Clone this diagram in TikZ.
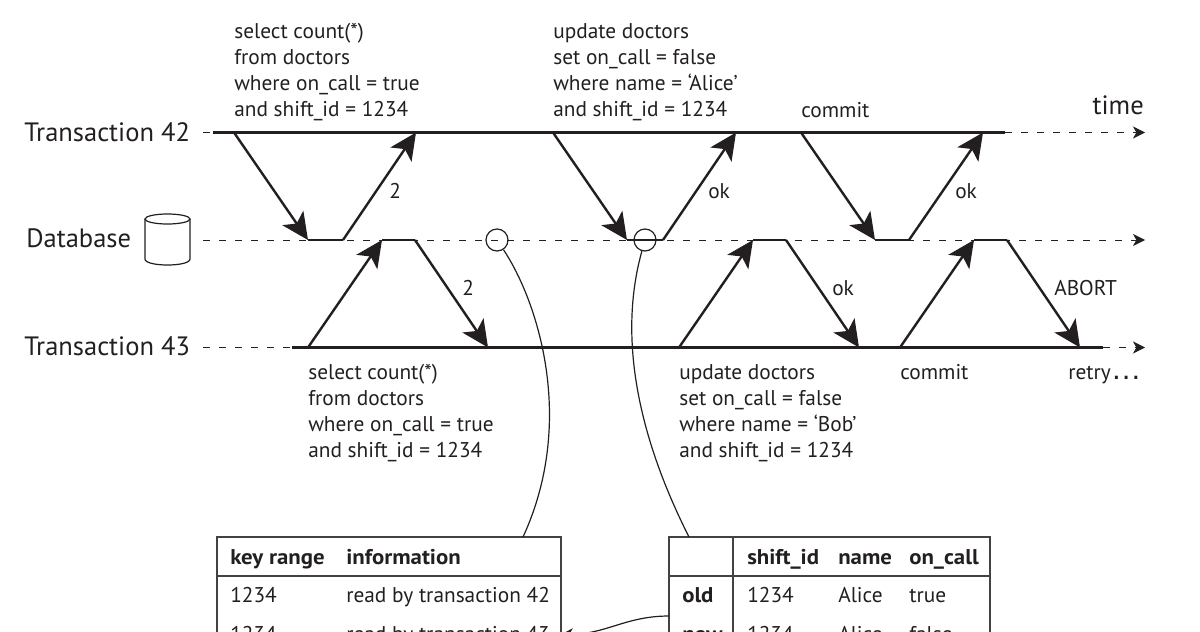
\documentclass[tikz,border=0pt]{standalone}
\usepackage{fontspec}
\setmainfont{PT Sans}[BoldFeatures={FakeStretch=1.07}]
\newfontfamily\dotsfont{Liberation Sans}
\usetikzlibrary{arrows.meta}
\definecolor{ink}{HTML}{231F20}
\newcommand{\smalltxt}{\fontsize{16}{19.5}\selectfont}
\newcommand{\bigtxt}{\fontsize{19.9}{24}\selectfont}
\tikzset{
  px/.style={x=0.75pt,y=-0.75pt},
  txt/.style={inner sep=0pt,anchor=north west,align=left,text=ink,font=\smalltxt},
  lbl/.style={inner sep=0pt,anchor=base west,text=ink,font=\smalltxt},
  lblb/.style={lbl,font=\smalltxt\bfseries},
  lane/.style={inner sep=0pt,anchor=base west,text=ink,font=\bigtxt},
  solidline/.style={draw=ink,line width=2pt},
  dashline/.style={draw=ink,line width=0.65pt,dash pattern=on 5.5pt off 6.5pt,-{Stealth[length=9pt,width=9pt,inset=2.5pt]}},
  dashplain/.style={draw=ink,line width=0.65pt,dash pattern=on 5.5pt off 6.5pt},
  msg/.style={draw=ink,line width=1.8pt,-{Stealth[length=20pt,width=19pt,inset=5pt]}},
  flat/.style={draw=ink,line width=1.7pt},
  ring/.style={circle,draw=ink,line width=0.9pt,minimum size=16.5pt,inner sep=0pt},
  thin curve/.style={draw=ink,line width=0.9pt},
  tab/.style={draw=ink!85,line width=0.9pt},
}
\begin{document}
\begin{tikzpicture}[px]
\useasboundingbox (0,0) rectangle (1200,632);
\clip (0,0) rectangle (1200,632);

% lanes
\node[lane] (t42) at (24,141) {Transaction 42};
\node[lane] (db)  at (26,247.5) {Database};
\node[lane] (t43) at (24,355) {Transaction 43};
\node[inner sep=0pt,anchor=base east,text=ink,font=\bigtxt] (time) at (1144,114) {time};

\coordinate (a0) at (203,132.5); \coordinate (a1) at (213,132.5);
\coordinate (a2) at (1005,132.5); \coordinate (a3) at (1145,132.5);
\coordinate (b0) at (203,240); \coordinate (b3) at (1145,240);
\coordinate (c0) at (203,347.5); \coordinate (c1) at (292,347.5);
\coordinate (c2) at (1103,347.5); \coordinate (c3) at (1145,347.5);

\draw[dashplain] (a0) -- (a1);
\draw[solidline] (a1) -- (a2);
\draw[dashline] (a2) -- (a3);
\draw[dashline] (b0) -- (b3);
\draw[dashplain] (c0) -- (c1);
\draw[solidline] (c1) -- (c2);
\draw[dashline] (c2) -- (c3);

% database cylinder
\draw[draw=ink,line width=0.9pt,fill=white] (145,219) -- (145,259) .. controls (145,267) and (190,267) .. (190,259) -- (190,219);
\draw[draw=ink,line width=0.9pt,fill=white] (167.5,219) ellipse [x radius=22.5,y radius=5];

% message trapezoids: start, db-in, db-out, end
\newcommand{\trap}[5]{%
  \coordinate (#1s) at (#2,#5);
  \coordinate (#1i) at ({#2+74},240);
  \coordinate (#1o) at ({#3},240);
  \coordinate (#1e) at (#4,#5);
  \draw[flat] (#1i) -- (#1o);
  \draw[msg] (#1s) -- (#1i);
  \draw[msg] (#1o) -- (#1e);
}
\trap{p}{234}{343}{416}{132.5}
\trap{q}{308}{415}{488}{347.5}
\trap{r}{553}{663}{736}{132.5}
\trap{s}{679}{786}{859}{347.5}
\trap{u}{801}{909}{983}{132.5}
\trap{v}{900}{1007}{1080}{347.5}

% statements
\node[txt] (st1) at (234,20) {\strut select count(*)\\from doctors\\where on\_call = true\\and shift\_id = 1234};
\node[txt] (st2) at (553,20) {\strut update doctors\\set on\_call = false\\where name = ‘Alice’\\and shift\_id = 1234};
\node[lbl] (st3) at (801,117) {commit};
\node[txt] (st4) at (308,361) {\strut select count(*)\\from doctors\\where on\_call = true\\and shift\_id = 1234};
\node[txt] (st5) at (679,361) {\strut update doctors\\set on\_call = false\\where name = ‘Bob’\\and shift\_id = 1234};
\node[lbl] (st6) at (900,379) {commit};
\node[lbl] (st7) at (1068,379) {retry{\dotsfont\fontsize{23}{24}\selectfont …}};

% reply labels
\node[lbl] (r1) at (389,198) {2};
\node[lbl] (r2) at (462,295) {2};
\node[lbl] (r3) at (708,198) {ok};
\node[lbl] (r4) at (832,295) {ok};
\node[lbl] (r5) at (955,198) {ok};
\node[lbl] (r6) at (1054,295) {ABORT};

% tables
\draw[tab] (217,640) -- (217,537) -- (561,537) -- (561,640);
\draw[tab] (217,576) -- (561,576);
\node[lblb] (h1) at (230,564) {key range};
\node[lblb] (h2) at (346,564) {information};
\node[lbl] (c11) at (230,602.5) {1234};
\node[lbl] (c12) at (346,602.5) {read by transaction 42};
\node[lbl] (c21) at (230,641) {1234};
\node[lbl] (c22) at (346,641) {read by transaction 43};

\draw[tab] (669,640) -- (669,537) -- (990,537) -- (990,640);
\draw[tab] (669,576) -- (990,576);
\draw[tab] (733,537) -- (733,640);
\node[lblb] (k1) at (747,564) {shift\_id};
\node[lblb] (k2) at (838,564) {name};
\node[lblb] (k3) at (909,564) {on\_call};
\node[lblb] (o0) at (682,602.5) {old};
\node[lbl] (o1) at (747,602.5) {1234};
\node[lbl] (o2) at (838,602.5) {Alice};
\node[lbl] (o3) at (909,602.5) {true};
\node[lblb] (n0) at (682,641) {new};
\node[lbl] (n1) at (747,641) {1234};
\node[lbl] (n2) at (838,641) {Alice};
\node[lbl] (n3) at (909,641) {false};

% circles and callouts
\node[ring] (ring1) at (497,240) {};
\node[ring] (ring2) at (645,240) {};
\coordinate (tab1top) at (523,537);
\coordinate (tab2top) at (689,537);
\draw[thin curve] (ring1) .. controls (537,300) and (577,420) .. (tab1top);
\draw[thin curve] (ring2) .. controls (617,340) and (640,440) .. (tab2top);
\coordinate (tab2side) at (669,616);
\coordinate (tab1side) at (562,634);
\draw[thin curve,-{Stealth[length=8pt,width=9pt,inset=2.5pt]}] (tab2side) .. controls (625,616) and (605,635) .. (tab1side);
\end{tikzpicture}
\end{document}
